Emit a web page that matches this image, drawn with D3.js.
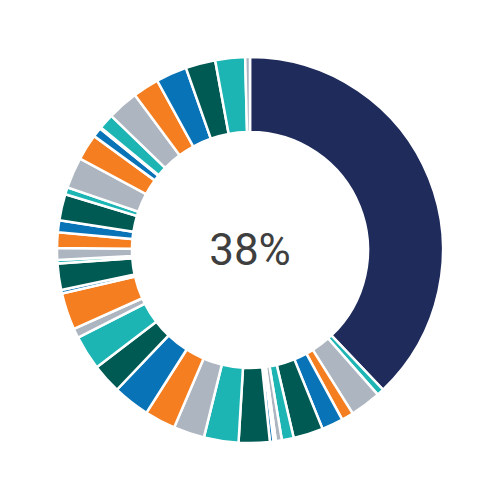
<!DOCTYPE html>
<html>
<head>
<meta charset="utf-8">
<script src="https://cdn.jsdelivr.net/npm/d3@7"></script>
<style>body{margin:0;background:#fff;}</style>
</head>
<body>
<div id="chart"></div>
<script>
// slice values, clockwise from 12 o'clock
var values = [38,
  0.6, 2.6, 1.0, 1.8, 2.5,
  1.0, 0.5, 0.2, 0.3, 2.6,
  2.9, 2.6, 2.6, 3.1, 2.5,
  2.9, 0.8, 3.1, 0.3, 2.2,
  0.3, 1.0, 1.3, 1.0, 2.2,
  0.6, 2.6, 2.2, 0.8, 0.1,
  1.3, 2.6, 2.2, 2.6, 2.5,
  2.5, 0.4];
var firstColor = "#1e2b5b";
var cycleColors = ["#1db4b4", "#adb5c0", "#f47e20", "#0873b7", "#005a54"];
var label = "38%";

var width = 500, height = 500;
var outer = 193, inner = 118;

var svg = d3.select("#chart").append("svg")
  .attr("width", width)
  .attr("height", height);

var g = svg.append("g").attr("transform", "translate(250,250)");

var pie = d3.pie().sort(null).value(function(d) { return d; });
var arc = d3.arc().innerRadius(inner).outerRadius(outer);

g.selectAll("path")
  .data(pie(values))
  .enter().append("path")
  .attr("d", arc)
  .attr("fill", function(d, i) { return i == 0 ? firstColor : cycleColors[(i - 1) % cycleColors.length]; })
  .attr("stroke", "#fff")
  .attr("stroke-width", 2.5);

g.append("text")
  .attr("text-anchor", "middle")
  .attr("dy", "0.35em")
  .style("font-family", "Roboto, 'Open Sans', sans-serif")
  .style("font-size", "44px")
  .style("fill", "#3f3f3f")
  .text(label);
</script>
</body>
</html>
